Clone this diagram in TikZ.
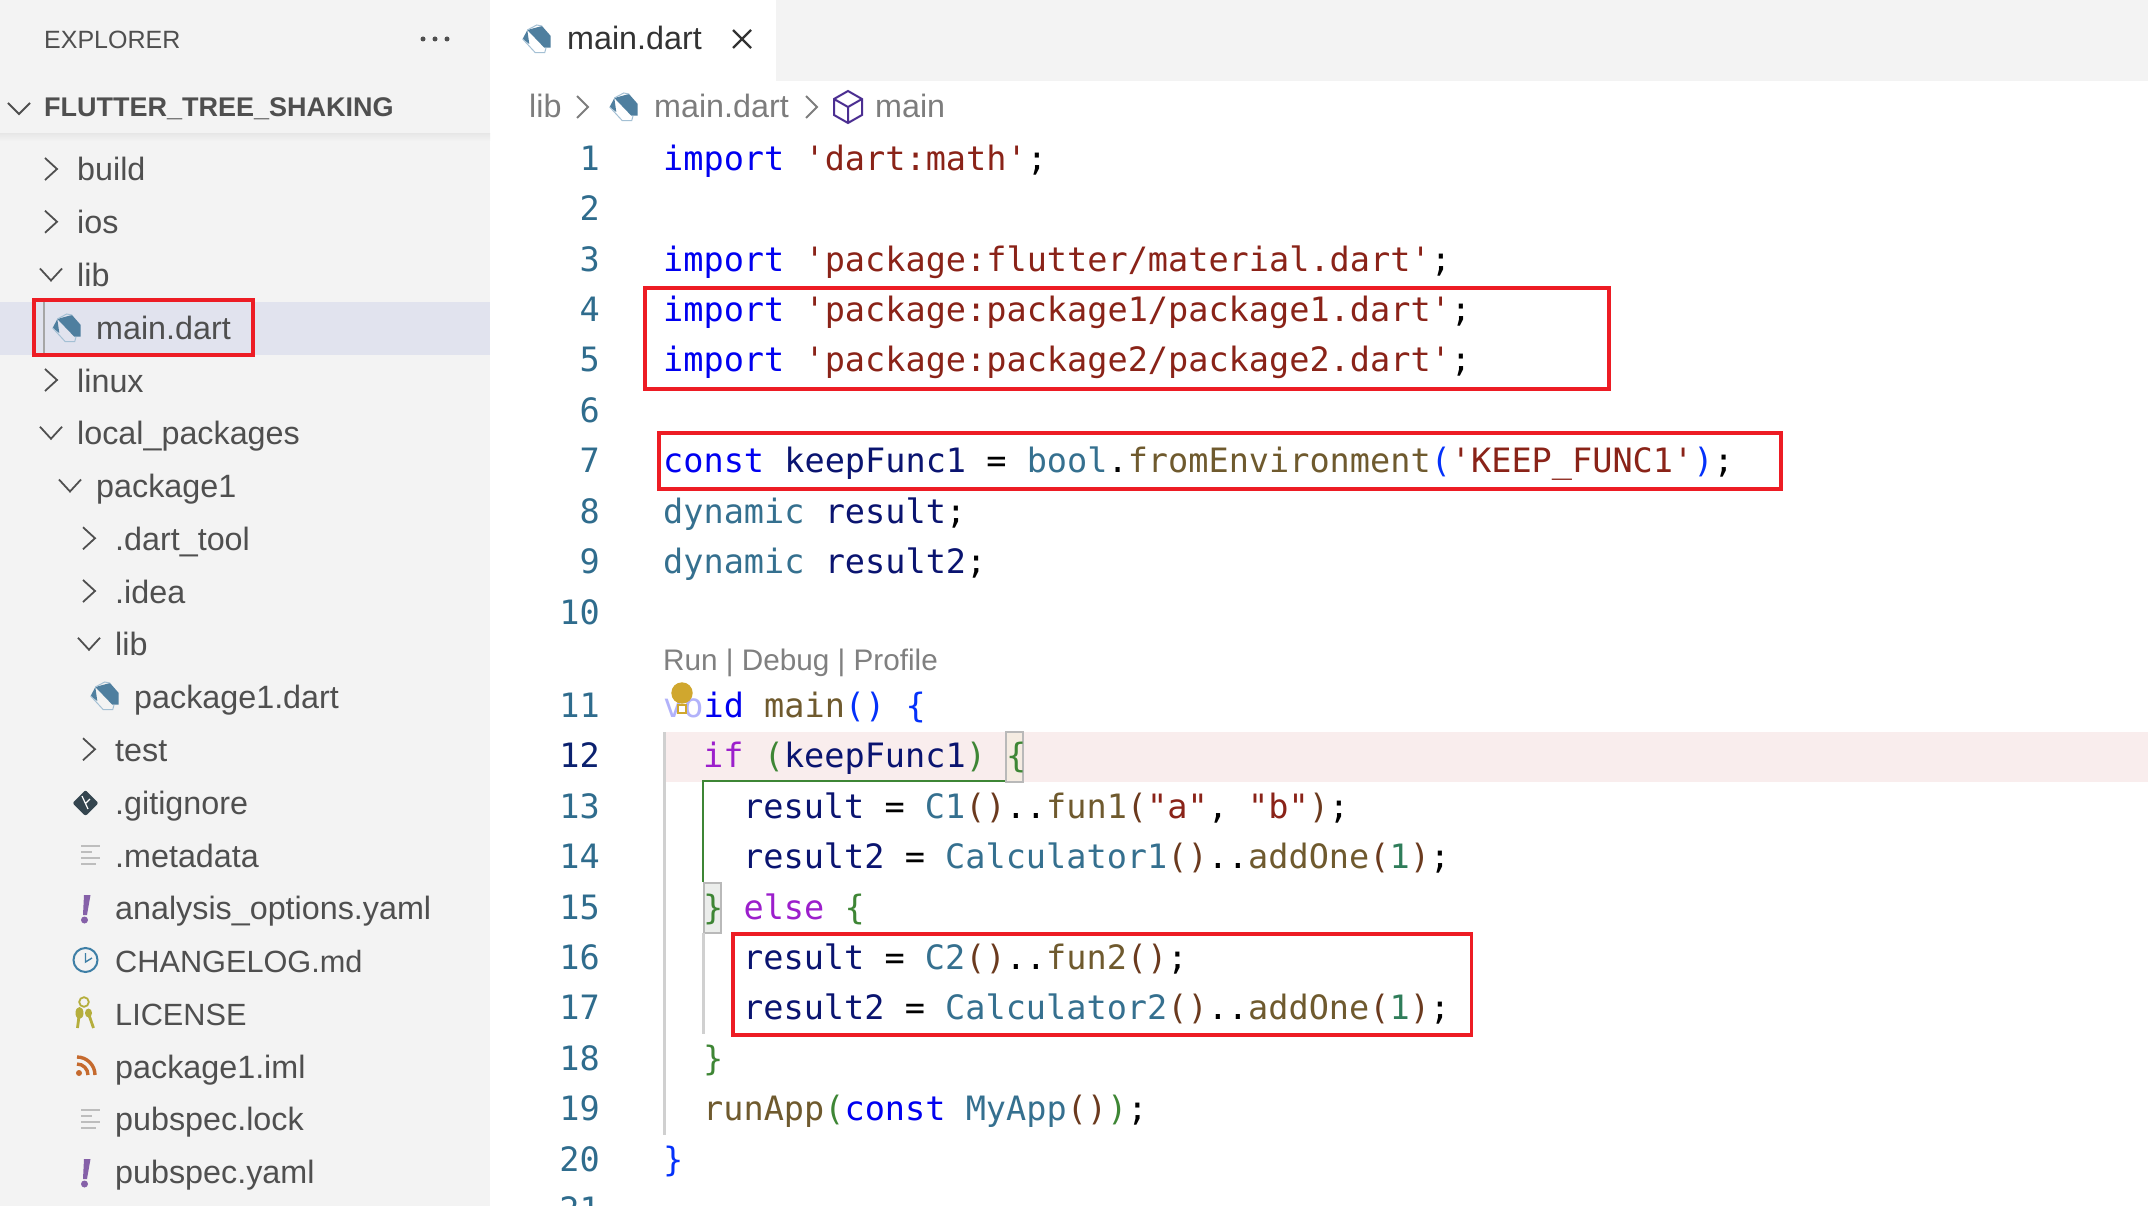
\documentclass[tikz,border=0pt]{standalone}
\usepackage{fontspec}
\setmainfont{Liberation Sans}
\setmonofont{DejaVu Sans Mono}
\definecolor{sidebg}{HTML}{F3F3F3}
\definecolor{rowbg}{HTML}{E1E3EE}
\definecolor{sidetext}{HTML}{4F4F4F}
\definecolor{crumb}{HTML}{7D7D7D}
\definecolor{redbox}{HTML}{ED1C24}
\definecolor{lineno}{HTML}{2F6C8D}
\definecolor{linecur}{HTML}{0B216F}
\definecolor{kwblue}{HTML}{0000F0}
\definecolor{strred}{HTML}{8A2318}
\definecolor{typeteal}{HTML}{35708F}
\definecolor{varnavy}{HTML}{0A1470}
\definecolor{funcbrown}{HTML}{6F5A2E}
\definecolor{ctrlpurple}{HTML}{9C1FCC}
\definecolor{brblue}{HTML}{0431FA}
\definecolor{brgreen}{HTML}{3E8635}
\definecolor{brbrown}{HTML}{6B3A1E}
\definecolor{numgreen}{HTML}{2F7D5A}
\definecolor{dartblue}{HTML}{4F7F9F}
\definecolor{dartpale}{HTML}{A4C0D4}
\definecolor{guide}{HTML}{D0D0D0}
\definecolor{bulb}{HTML}{D0A72E}
\definecolor{linebg}{HTML}{F9EDED}
\definecolor{keycol}{HTML}{B5AE3C}
\definecolor{rsscol}{HTML}{C56A2E}
\definecolor{bangcol}{HTML}{8560A8}
\definecolor{clockcol}{HTML}{3E7FA6}
\definecolor{gitcol}{HTML}{34454F}
\definecolor{cubecol}{HTML}{4B2E91}
\definecolor{linesicon}{HTML}{BDBDBD}
\newcommand{\kw}[1]{\textcolor{kwblue}{#1}}
\newcommand{\strg}[1]{\textcolor{strred}{#1}}
\newcommand{\ty}[1]{\textcolor{typeteal}{#1}}
\newcommand{\vr}[1]{\textcolor{varnavy}{#1}}
\newcommand{\fn}[1]{\textcolor{funcbrown}{#1}}
\newcommand{\ct}[1]{\textcolor{ctrlpurple}{#1}}
\newcommand{\bb}[1]{\textcolor{brblue}{#1}}
\newcommand{\bg}[1]{\textcolor{brgreen}{#1}}
\newcommand{\bn}[1]{\textcolor{brbrown}{#1}}
\newcommand{\nm}[1]{\textcolor{numgreen}{#1}}
\newcommand{\narrow}[1]{{\fontsize{30.7}{38}\selectfont #1}}
\begin{document}
\begin{tikzpicture}[x=1pt, y=-1pt,
    code/.style = {anchor=base west, inner sep=0pt, font=\fontsize{33.55}{40}\ttfamily},
    num/.style = {anchor=base east, inner sep=0pt, text=lineno, font=\fontsize{33.55}{40}\ttfamily},
    file/.style = {anchor=base west, inner sep=0pt, text=sidetext, font=\fontsize{32.3}{38}\selectfont},
    crumbtext/.style = {anchor=base west, inner sep=0pt, text=crumb, font=\fontsize{32.3}{38}\selectfont},
    redmark/.style = {draw=redbox, line width=3.8pt},
    chev/.style = {draw=sidetext, line width=1.8pt},
    dart/.pic = {
        \fill[dartblue] (-9.7,-9) -- (5,-13) -- (13.7,-3) -- (13.7,8.7) -- (7.3,8.7) -- cycle;
        \fill[dartblue] (-14.3,0) -- (-9.7,-9) -- (-7.7,5) -- cycle;
        \draw[dartpale, line width=1pt] (-14.3,0) -- (-1.7,13.7) -- (7.7,13.7) -- (9,9);
        \draw[dartpale, line width=1pt] (-9.7,-9) -- (-0.3,-14) -- (5,-13);
    },
    lines/.pic = {
        \draw[linesicon, line width=2pt] (-4.5,-9) -- (14.5,-9) (-4.5,-3) -- (6,-3) (-4.5,3) -- (14.5,3) (-4.5,9) -- (10,9);
    },
    bang/.pic = {
        \fill[bangcol] (-1.5,-13) -- (5,-13) -- (1.5,7) -- (-2.5,7) -- cycle;
        \fill[bangcol] (-1,12) circle (3.5);
    }]
\useasboundingbox (0,0) rectangle (2148,1206);
\clip (0,0) rectangle (2148,1206);
% backgrounds
\fill[white] (0,0) rectangle (2148,1206);
\fill[sidebg] (0,0) rectangle (490,1206);
\fill[sidebg] (490,0) rectangle (2148,81);
\fill[white] (490,0) rectangle (776,81);
\shade[top color=black!9, bottom color=sidebg] (0,134) rectangle (490,141);
\fill[rowbg] (0,302) rectangle (490,355);
\draw[gray!70, line width=2pt] (44,302) -- (44,355);
% sidebar head
\node[file, font=\fontsize{25}{30}\selectfont] (explorer) at (44,49) {EXPLORER};
\fill[sidetext] (423,39) circle (2.5) (435,39) circle (2.5) (447,39) circle (2.5);
\draw[chev] (8,103) -- (19,114) -- (30,103);
\node[file, font=\fontsize{27}{32}\bfseries] (project) at (44,117) {FLUTTER\_TREE\_SHAKING};
% file tree
\foreach \y/\dx/\name/\label in {0/77/r0/build, 1/77/r1/ios, 2/77/r2/lib, 3/96/r3/main.dart, 4/77/r4/linux, 5/77/r5/local\_packages,
    6/96/r6/package1, 7/115/r7/.dart\_tool, 8/115/r8/.idea, 9/115/r9/lib, 10/134/r10/package1.dart, 11/115/r11/test,
    12/115/r12/.gitignore, 13/115/r13/.metadata, 14/115/r14/analysis\_options.yaml, 15/115/r15/\narrow{CHANGELOG.md},
    16/115/r16/\narrow{LICENSE}, 17/115/r17/package1.iml, 18/115/r18/pubspec.lock, 19/115/r19/pubspec.yaml}
    \node[file] (\name) at (\dx,180.9+52.78*\y) {\label};
% chevrons
\foreach \cx/\i in {51/0, 51/1, 51/4, 89/7, 89/8, 89/11}
    \draw[chev] (\cx-6,169+52.75*\i-11) -- (\cx+6,169+52.75*\i) -- (\cx-6,169+52.75*\i+11);
\foreach \cx/\i in {51/2, 51/5, 70/6, 89/9}
    \draw[chev] (\cx-11,169+52.75*\i-6) -- (\cx,169+52.75*\i+6) -- (\cx+11,169+52.75*\i-6);
% file icons
\pic at (67,328) {dart};
\pic at (105,696) {dart};
\fill[gitcol, rounded corners=2pt] (85.5,790) -- (98.5,803) -- (85.5,816) -- (72.5,803) -- cycle;
\draw[white, line width=1.2pt] (82,796) -- (88,809) (86,803) -- (90,799);
\pic at (85.5,855) {lines};
\pic at (85.5,908) {bang};
\draw[clockcol, line width=2pt] (85.5,960) circle (12);
\draw[clockcol, line width=1.4pt] (85.5,953) -- (85.5,962) -- (92,958);
\pic at (85.5,1119) {lines};
\pic at (85.5,1172) {bang};
% key
\draw[keycol, line width=1.8pt] (84,1002) circle (4.8);
\fill[keycol] (79.5,1013) ellipse (4 and 6) (88.5,1013) ellipse (3.5 and 4.5);
\draw[keycol, line width=2.8pt] (79,1016) -- (77.5,1028) (89,1015) -- (93.5,1028);
% rss
\fill[rsscol] (79,1073) circle (3);
\draw[rsscol, line width=3.4pt] (77,1064) arc (-90:0:11) (77,1057) arc (-90:0:18);
% tab and breadcrumb
\pic at (537,39) {dart};
\node[file, text=black!80] (tabname) at (567,50) {main.dart};
\draw[black!80, line width=2.4pt] (733,30) -- (751,48) (751,30) -- (733,48);
\node[crumbtext] (crumblib) at (529,118) {lib};
\draw[crumb, line width=1.8pt] (577,96) -- (588,107) -- (577,118);
\pic at (624,107) {dart};
\node[crumbtext] (crumbfile) at (654,118) {main.dart};
\draw[crumb, line width=1.8pt] (806,96) -- (817,107) -- (806,118);
\draw[cubecol, line width=2pt] (848,91) -- (862,99) -- (862,115) -- (848,123) -- (834,115) -- (834,99) -- cycle (834,99) -- (848,107) -- (862,99) (848,107) -- (848,123);
\node[crumbtext] (crumbmain) at (875,118) {main};
% editor decoration
\fill[linebg] (663,732) rectangle (2148,782);
\fill[guide] (663,732) rectangle (666,1135);
\draw[brgreen, line width=2pt] (1006,781) -- (703,781) -- (703,882);
\draw[gray!55, fill=brown!15, line width=1.6pt] (1006,732) rectangle (1023,782);
\draw[gray!55, fill=green!5!gray!15, line width=1.6pt] (704,883) rectangle (721,933);
\fill[guide] (702,933) rectangle (704.5,1034);
% line numbers
\foreach \n in {1,...,10} \node[num] (n\n) at (600,170.4+50.4*\n-50.4) {\n};
\foreach \n in {11,...,21} \node[num] (n\n) at (600,717.4+50.4*\n-554.4) {\ifnum\n=12 \color{linecur}\fi\n};
% code lines
\node[code] (c1) at (663,170.4) {\kw{import} \strg{'dart:math'};};
\node[code] (c3) at (663,271.2) {\kw{import} \strg{'package:flutter/material.dart'};};
\node[code] (c4) at (663,321.6) {\kw{import} \strg{'package:package1/package1.dart'};};
\node[code] (c5) at (663,372) {\kw{import} \strg{'package:package2/package2.dart'};};
\node[code] (c7) at (663,472.8) {\kw{const} \vr{keepFunc1} = \ty{bool}.\fn{fromEnvironment}\bb{(}\strg{'KEEP\_FUNC1'}\bb{)};};
\node[code] (c8) at (663,523.2) {\ty{dynamic} \vr{result};};
\node[code] (c9) at (663,573.6) {\ty{dynamic} \vr{result2};};
\node[anchor=base west, inner sep=0pt, text=gray, font=\fontsize{29.7}{34}\selectfont] (lens) at (663,670) {Run | Debug | Profile};
\node[code] (c11) at (663,717.4) {\textcolor{kwblue!30}{vo}\kw{id} \fn{main}\bb{()} \bb{\{}};
\node[code] (c12) at (703,767.8) {\ct{if} \bg{(}\vr{keepFunc1}\bg{)} \bg{\{}};
\node[code] (c13) at (743,818.2) {\vr{result} = \ty{C1}\bn{()}..\fn{fun1}\bn{(}\strg{"a"}, \strg{"b"}\bn{)};};
\node[code] (c14) at (743,868.6) {\vr{result2} = \ty{Calculator1}\bn{()}..\fn{addOne}\bn{(}\nm{1}\bn{)};};
\node[code] (c15) at (703,919) {\bg{\}} \ct{else} \bg{\{}};
\node[code] (c16) at (743,969.4) {\vr{result} = \ty{C2}\bn{()}..\fn{fun2}\bn{()};};
\node[code] (c17) at (743,1019.8) {\vr{result2} = \ty{Calculator2}\bn{()}..\fn{addOne}\bn{(}\nm{1}\bn{)};};
\node[code] (c18) at (703,1070.2) {\bg{\}}};
\node[code] (c19) at (703,1120.6) {\fn{runApp}\bg{(}\kw{const} \ty{MyApp}\bn{()}\bg{)};};
\node[code] (c20) at (663,1171) {\bb{\}}};
% bulb
\draw[bulb, fill=white, line width=1.6pt] (678,705) rectangle (686,713);
\fill[bulb] (682,693) circle (10.7);
% red marks
\draw[redmark] (34,300) rectangle (253,355);
\draw[redmark] (645,288) rectangle (1609,389);
\draw[redmark] (659,433) rectangle (1781,489);
\draw[redmark] (733,934) rectangle (1471.5,1035);
\end{tikzpicture}
\end{document}
